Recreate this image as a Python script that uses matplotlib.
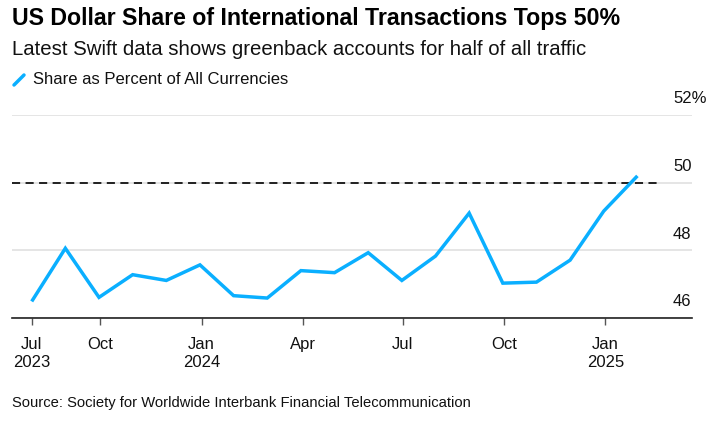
import matplotlib
matplotlib.use("Agg")
import matplotlib.pyplot as plt
from matplotlib import font_manager

names = {f.name for f in font_manager.fontManager.ttflist}
FONT = "Liberation Sans" if "Liberation Sans" in names else "DejaVu Sans"
plt.rcParams["font.family"] = [FONT, "DejaVu Sans"]

# ---- data ----
months = ["Jul 2023", "Aug 2023", "Sep 2023", "Oct 2023", "Nov 2023", "Dec 2023",
          "Jan 2024", "Feb 2024", "Mar 2024", "Apr 2024", "May 2024", "Jun 2024",
          "Jul 2024", "Aug 2024", "Sep 2024", "Oct 2024", "Nov 2024", "Dec 2024",
          "Jan 2025"]
share = [46.49, 48.06, 46.61, 47.28, 47.11, 47.57, 46.66, 46.59, 47.40, 47.34,
         47.93, 47.11, 47.83, 49.10, 47.03, 47.06, 47.71, 49.16, 50.20]
tick_pos = [0, 2.03, 5.05, 8.05, 11.03, 14.05, 17.05]
tick_labels = ["Jul\n2023", "Oct", "Jan\n2024", "Apr", "Jul", "Oct", "Jan\n2025"]
y_ticks = [46, 48, 50, 52]
y_tick_labels = ["46", "48", "50", "52%"]
threshold = 50

W, H = 717, 427
fig = plt.figure(figsize=(W / 100, H / 100), dpi=100)
ax_left, ax_right, ax_bottom, ax_top = 12, 692, 319, 116
ax = fig.add_axes([ax_left / W, (H - ax_bottom) / H,
                   (ax_right - ax_left) / W, (ax_bottom - ax_top) / H])

x = list(range(len(share)))
px_per = 33.65
x0 = 0 - (31.7 - ax_left) / px_per
x1 = x0 + (ax_right - ax_left) / px_per
ax.set_xlim(x0, x1)
ax.set_ylim(46, 52)

for yv in y_ticks:
    ax.axhline(yv, color="#e3e3e3", lw=1.3, zorder=1)
ax.plot([x0, x0 + (657 - ax_left) / px_per], [threshold, threshold],
        color="#111111", lw=1.3, ls=(0, (4.5, 3)), zorder=2)
ax.plot(x, share, color="#0aafff", lw=2.5, solid_joinstyle="miter",
        solid_capstyle="butt", zorder=3)

for s in ["top", "right", "left"]:
    ax.spines[s].set_visible(False)
ax.spines["bottom"].set_color("#222222")
ax.spines["bottom"].set_linewidth(1.2)
ax.spines["bottom"].set_zorder(4)

ax.set_yticks([])
ax.set_xticks(tick_pos)
ax.set_xticklabels(tick_labels, fontsize=12, color="#111111", linespacing=1.25)
ax.tick_params(axis="x", length=5, width=1, color="#555555", pad=8)

for yv, lab in zip(y_ticks, y_tick_labels):
    ax.annotate(lab, xy=((673 - ax_left) / (ax_right - ax_left), yv),
                xycoords=("axes fraction", "data"), xytext=(0, 7),
                textcoords="offset points", ha="left", va="bottom",
                fontsize=12, color="#111111", annotation_clip=False)

fig.text(12 / W, 1 - 7 / H, "US Dollar Share of International Transactions Tops 50%",
         fontsize=16.7, fontweight="bold", color="#000000", va="top", ha="left")
fig.text(12 / W, 1 - 40 / H, "Latest Swift data shows greenback accounts for half of all traffic",
         fontsize=14.7, color="#111111", va="top", ha="left")
fig.lines.append(plt.Line2D([14 / W, 24 / W], [1 - 86 / H, 1 - 76 / H],
                            transform=fig.transFigure, color="#0aafff", lw=2.5,
                            solid_capstyle="round"))
fig.text(33 / W, 1 - 72 / H, "Share as Percent of All Currencies",
         fontsize=12, color="#111111", va="top", ha="left")
fig.text(12 / W, 1 - 396 / H, "Source: Society for Worldwide Interbank Financial Telecommunication",
         fontsize=10.6, color="#111111", va="top", ha="left")

fig.savefig("out.png", dpi=100, facecolor="white")
